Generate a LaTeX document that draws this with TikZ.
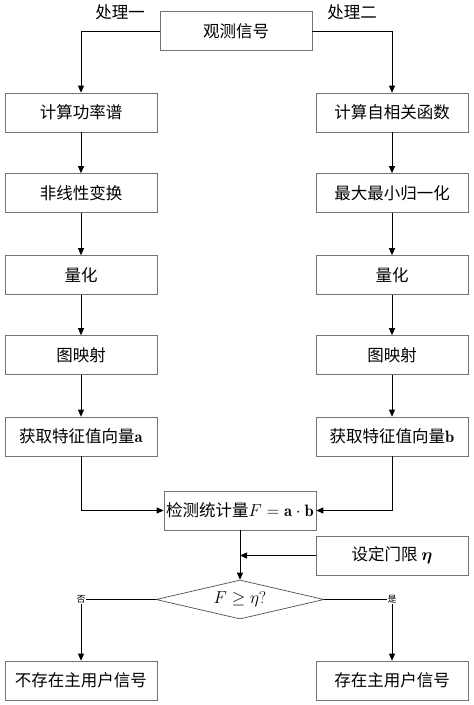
\documentclass[tikz,border=0pt]{standalone}
\usepackage{fontspec}
\usepackage{amsmath,bm}
\newfontfamily\cjk{Noto Sans CJK SC}
\usetikzlibrary{shapes.geometric,arrows.meta}
\begin{document}
\begin{tikzpicture}[x=1pt,y=-1pt,
  box/.style={draw=black!55,line width=0.7pt,minimum width=152pt,minimum height=39pt,inner sep=0pt,font=\cjk\fontsize{16.5}{19}\selectfont},
  dec/.style={draw=black!70,line width=0.7pt,diamond,aspect=4.3,minimum width=168pt,minimum height=39pt,inner sep=0pt,font=\fontsize{17}{19}\selectfont},
  conn/.style={line width=0.8pt,-{Triangle[width=6pt,length=7pt]}},
  lbl/.style={font=\cjk\fontsize{16.5}{19}\selectfont},
  sm/.style={font=\cjk\fontsize{9}{10}\selectfont,fill=white,inner sep=0.5pt}]
\useasboundingbox (0,0) rectangle (474,705);
\node[box] (obs) at (236,31) {观测信号};
\node[box] (l1) at (81,112.5) {计算功率谱};
\node[box] (l2) at (81,193) {非线性变换};
\node[box] (l3) at (81,275) {量化};
\node[box] (l4) at (81,355) {图映射};
\node[box] (l5) at (81,436.5) {获取特征值向量$\mathbf{a}$};
\node[box] (r1) at (392,112.5) {计算自相关函数};
\node[box] (r2) at (392,193) {最大最小归一化};
\node[box] (r3) at (392,275) {量化};
\node[box] (r4) at (392,355) {图映射};
\node[box] (r5) at (392,436.5) {获取特征值向量$\mathbf{b}$};
\node[box] (det) at (240,510.5) {检测统计量$F=\mathbf{a}\cdot\mathbf{b}$};
\node[box] (thr) at (392,555.5) {设定门限 $\bm{\eta}$};
\node[dec] (dia) at (240,599.5) {$F\geq\eta$?};
\node[box] (no) at (81,680.5) {不存在主用户信号};
\node[box] (yes) at (392,680.5) {存在主用户信号};
\node[lbl] (t1) at (120,12) {处理一};
\node[lbl] (t2) at (352,12) {处理二};
\coordinate (cj) at (dia.north |- thr.west);
\draw[conn] (obs.west) -| (l1.north);
\draw[conn] (obs.east) -| (r1.north);
\draw[conn] (l1) -- (l2);
\draw[conn] (l2) -- (l3);
\draw[conn] (l3) -- (l4);
\draw[conn] (l4) -- (l5);
\draw[conn] (r1) -- (r2);
\draw[conn] (r2) -- (r3);
\draw[conn] (r3) -- (r4);
\draw[conn] (r4) -- (r5);
\draw[conn] (l5.south) |- (det.west);
\draw[conn] (r5.south) |- (det.east);
\draw[conn] (det.south) -- (dia.north);
\draw[conn] (thr.west) -- (cj);
\draw[conn] (dia.west) -| node[sm,pos=0.5] (nolbl) {否} (no.north);
\draw[conn] (dia.east) -| node[sm,pos=0.5] (yeslbl) {是} (yes.north);
\end{tikzpicture}
\end{document}
